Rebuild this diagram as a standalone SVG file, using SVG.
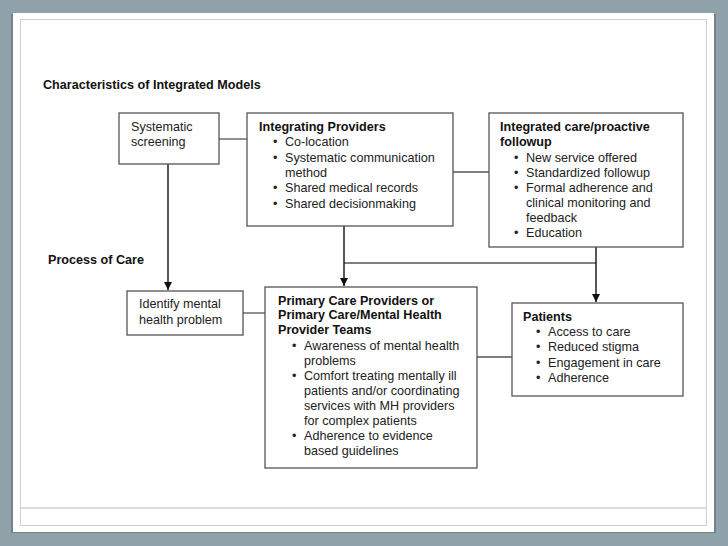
<svg xmlns="http://www.w3.org/2000/svg" width="728" height="546" viewBox="0 0 728 546">
<defs>
<style>
text{font-family:"Liberation Sans",Arial,sans-serif;font-size:12.6px;fill:#222}
.b{font-weight:bold;fill:#111}
.box{fill:#fff;stroke:#555;stroke-width:1.3}
.ln{fill:none;stroke:#555;stroke-width:1.3}
.ar{fill:none;stroke:#111;stroke-width:1.4}
</style>
<marker id="ah" viewBox="0 0 10 10" refX="10" refY="5" markerWidth="8" markerHeight="8" markerUnits="userSpaceOnUse" orient="auto">
<path d="M0,0 L10,5 L0,10 z" fill="#111"/>
</marker>
</defs>
<rect x="0" y="0" width="728" height="546" fill="#8fa2aa"/>
<rect x="11" y="14" width="705" height="519" fill="#5f6f75" opacity="0.6"/>
<rect x="13" y="13" width="701" height="519" fill="#fff"/>
<rect x="20.5" y="19.5" width="686" height="506" fill="none" stroke="#d0d0d0" stroke-width="1"/>
<line x1="20.5" y1="508" x2="706.5" y2="508" stroke="#d0d0d0" stroke-width="1.5"/>

<text class="b" x="43" y="89">Characteristics of Integrated Models</text>
<text class="b" x="48" y="264">Process of Care</text>

<g id="connectors">
<line class="ln" x1="219" y1="139" x2="247" y2="139"/>
<line class="ln" x1="453" y1="172" x2="489" y2="172"/>
<line class="ln" x1="243" y1="313" x2="265" y2="313"/>
<line class="ln" x1="477" y1="357" x2="512" y2="357"/>
<line class="ln" x1="344" y1="263" x2="596" y2="263"/>
<line class="ar" x1="168" y1="164" x2="168" y2="290" marker-end="url(#ah)"/>
<line class="ar" x1="344" y1="226" x2="344" y2="286" marker-end="url(#ah)"/>
<line class="ar" x1="596" y1="247" x2="596" y2="302" marker-end="url(#ah)"/>
</g>

<g id="screening">
<rect class="box" x="119" y="113" width="100" height="51"/>
<text x="131" y="131">Systematic</text>
<text x="131" y="146">screening</text>
</g>

<g id="integrating">
<rect class="box" x="247" y="113" width="206" height="113"/>
<text class="b" x="259" y="130.5">Integrating Providers</text>
<text x="273" y="146">•</text><text x="285" y="146">Co-location</text>
<text x="273" y="161.5">•</text><text x="285" y="161.5">Systematic communication</text>
<text x="285" y="176.5">method</text>
<text x="273" y="192">•</text><text x="285" y="192">Shared medical records</text>
<text x="273" y="207.5">•</text><text x="285" y="207.5">Shared decisionmaking</text>
</g>

<g id="integrated-care">
<rect class="box" x="489" y="113" width="194" height="134"/>
<text class="b" x="500" y="131">Integrated care/proactive</text>
<text class="b" x="500" y="146">followup</text>
<text x="514" y="161.5">•</text><text x="526" y="161.5">New service offered</text>
<text x="514" y="177">•</text><text x="526" y="177">Standardized followup</text>
<text x="514" y="192">•</text><text x="526" y="192">Formal adherence and</text>
<text x="526" y="207">clinical monitoring and</text>
<text x="526" y="221.5">feedback</text>
<text x="514" y="237">•</text><text x="526" y="237">Education</text>
</g>

<g id="identify">
<rect class="box" x="127" y="291" width="116" height="44"/>
<text x="139" y="307.5">Identify mental</text>
<text x="139" y="323.5">health problem</text>
</g>

<g id="pcp">
<rect class="box" x="265" y="287" width="212" height="181"/>
<text class="b" x="278" y="304.5">Primary Care Providers or</text>
<text class="b" x="278" y="319">Primary Care/Mental Health</text>
<text class="b" x="278" y="334">Provider Teams</text>
<text x="292" y="349.5">•</text><text x="304" y="349.5">Awareness of mental health</text>
<text x="304" y="364.5">problems</text>
<text x="292" y="380">•</text><text x="304" y="380">Comfort treating mentally ill</text>
<text x="304" y="395">patients and/or coordinating</text>
<text x="304" y="410">services with MH providers</text>
<text x="304" y="424.5">for complex patients</text>
<text x="292" y="440">•</text><text x="304" y="440">Adherence to evidence</text>
<text x="304" y="454.5">based guidelines</text>
</g>

<g id="patients">
<rect class="box" x="512" y="303" width="171" height="93"/>
<text class="b" x="523" y="321">Patients</text>
<text x="536" y="335.5">•</text><text x="548" y="335.5">Access to care</text>
<text x="536" y="351">•</text><text x="548" y="351">Reduced stigma</text>
<text x="536" y="366.5">•</text><text x="548" y="366.5">Engagement in care</text>
<text x="536" y="382">•</text><text x="548" y="382">Adherence</text>
</g>
</svg>
